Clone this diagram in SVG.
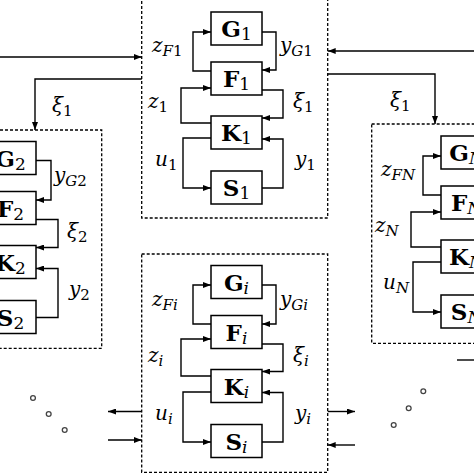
<svg xmlns="http://www.w3.org/2000/svg" width="474" height="474" viewBox="0 0 474 474">
<style>
.bg{fill:#fff}
.dash{fill:none;stroke:#000;stroke-width:1.3;stroke-dasharray:3 2}
.node rect{fill:#fff;stroke:#000;stroke-width:1.5}
.nt{font-family:"DejaVu Serif","Liberation Serif",serif;font-weight:bold;font-size:23px;text-anchor:middle;fill:#000}
.ns{font-size:17px;font-weight:normal}
.it{font-style:italic}
.lb{font-family:"DejaVu Serif","Liberation Serif",serif;font-style:italic;font-size:20px;fill:#000}
.sb{font-size:15px}
.up{font-style:normal}
.conn path{fill:none;stroke:#000;stroke-width:1.4}
.dot{fill:none;stroke:#444;stroke-width:1.3}
</style>
<defs>
<marker id="ah" markerUnits="userSpaceOnUse" markerWidth="8" markerHeight="6" refX="8" refY="3" orient="auto">
<path d="M0,0 L8,3 L0,6 z" fill="#000"/>
</marker>
</defs>
<rect class="bg" x="0" y="0" width="474" height="474"/>

<!-- subsystem frames -->
<g id="frames">
<rect class="dash" x="141.7" y="-1" width="186" height="219"/>
<rect class="dash" x="-20" y="130" width="121.7" height="218.3"/>
<rect class="dash" x="371.7" y="124" width="120" height="219.3"/>
<rect class="dash" x="141.7" y="254" width="186" height="218.3"/>
</g>

<!-- connectors -->
<g id="connectors" class="conn">
<!-- top subsystem 1 -->
<path d="M211,71 H193 V32 H211" marker-end="url(#ah)"/>
<path d="M262,32 H276 V70 H262" marker-end="url(#ah)"/>
<path d="M211,123 H181 V88 H211" marker-end="url(#ah)"/>
<path d="M262,90 H283 V118 H262" marker-end="url(#ah)"/>
<path d="M211,138 H183 V188 H211" marker-end="url(#ah)"/>
<path d="M262,188 H283 V139 H262" marker-end="url(#ah)"/>
<!-- left subsystem 2 -->
<path d="M36,160.5 H51 V200 H36" marker-end="url(#ah)"/>
<path d="M36,219.5 H58 V247.5 H36" marker-end="url(#ah)"/>
<path d="M36,317.5 H58 V268.5 H36" marker-end="url(#ah)"/>
<!-- right subsystem N -->
<path d="M441,195 H423 V156 H441" marker-end="url(#ah)"/>
<path d="M441,247 H411 V212 H441" marker-end="url(#ah)"/>
<path d="M441,262 H413 V312 H441" marker-end="url(#ah)"/>
<!-- bottom subsystem i -->
<path d="M211,324 H193 V285 H211" marker-end="url(#ah)"/>
<path d="M262,285 H276 V324 H262" marker-end="url(#ah)"/>
<path d="M211,376 H181 V339 H211" marker-end="url(#ah)"/>
<path d="M262,344 H283 V371.5 H262" marker-end="url(#ah)"/>
<path d="M211,392 H183 V442 H211" marker-end="url(#ah)"/>
<path d="M262,442 H283 V392.5 H262" marker-end="url(#ah)"/>
<!-- between subsystems -->
<path d="M0,57 H141.7" marker-end="url(#ah)"/>
<path d="M141.7,79 H35 V130" marker-end="url(#ah)"/>
<path d="M474,51 H327.7" marker-end="url(#ah)"/>
<path d="M327.7,74 H435 V124" marker-end="url(#ah)"/>
<path d="M457,360 H474"/>
<path d="M141.7,411.5 H108" marker-end="url(#ah)"/>
<path d="M108,440 H141.7" marker-end="url(#ah)"/>
<path d="M327.7,411.5 H355" marker-end="url(#ah)"/>
<path d="M355,445 H327.7" marker-end="url(#ah)"/>
</g>

<!-- nodes: subsystem 1 -->
<g id="G1" class="node"><rect x="211" y="12" width="51" height="33"/><text class="nt" x="236.5" y="37">G<tspan class="ns" dy="3">1</tspan></text></g>
<g id="F1" class="node"><rect x="211" y="62" width="51" height="33"/><text class="nt" x="236.5" y="87">F<tspan class="ns" dy="3">1</tspan></text></g>
<g id="K1" class="node"><rect x="211" y="116" width="51" height="33"/><text class="nt" x="236.5" y="141">K<tspan class="ns" dy="3">1</tspan></text></g>
<g id="S1" class="node"><rect x="211" y="171" width="51" height="33"/><text class="nt" x="236.5" y="196">S<tspan class="ns" dy="3">1</tspan></text></g>
<!-- subsystem 2 -->
<g id="G2" class="node"><rect x="-15" y="141.5" width="51" height="33"/><text class="nt" x="10.5" y="166.5">G<tspan class="ns" dy="3">2</tspan></text></g>
<g id="F2" class="node"><rect x="-15" y="191.5" width="51" height="33"/><text class="nt" x="10.5" y="216.5">F<tspan class="ns" dy="3">2</tspan></text></g>
<g id="K2" class="node"><rect x="-15" y="245.5" width="51" height="33"/><text class="nt" x="10.5" y="270.5">K<tspan class="ns" dy="3">2</tspan></text></g>
<g id="S2" class="node"><rect x="-15" y="300.5" width="51" height="33"/><text class="nt" x="10.5" y="325.5">S<tspan class="ns" dy="3">2</tspan></text></g>
<!-- subsystem N -->
<g id="GN" class="node"><rect x="441" y="136" width="51" height="33"/><text class="nt" x="466.5" y="161">G<tspan class="ns it" dy="3">N</tspan></text></g>
<g id="FN" class="node"><rect x="441" y="186" width="51" height="33"/><text class="nt" x="466.5" y="211">F<tspan class="ns it" dy="3">N</tspan></text></g>
<g id="KN" class="node"><rect x="441" y="240" width="51" height="33"/><text class="nt" x="466.5" y="265">K<tspan class="ns it" dy="3">N</tspan></text></g>
<g id="SN" class="node"><rect x="441" y="295" width="51" height="33"/><text class="nt" x="466.5" y="320">S<tspan class="ns it" dy="3">N</tspan></text></g>
<!-- subsystem i -->
<g id="Gi" class="node"><rect x="211" y="265.5" width="51" height="33"/><text class="nt" x="236.5" y="290.5">G<tspan class="ns it" dy="3">i</tspan></text></g>
<g id="Fi" class="node"><rect x="211" y="315.5" width="51" height="33"/><text class="nt" x="236.5" y="340.5">F<tspan class="ns it" dy="3">i</tspan></text></g>
<g id="Ki" class="node"><rect x="211" y="369.5" width="51" height="33"/><text class="nt" x="236.5" y="394.5">K<tspan class="ns it" dy="3">i</tspan></text></g>
<g id="Si" class="node"><rect x="211" y="424.5" width="51" height="33"/><text class="nt" x="236.5" y="449.5">S<tspan class="ns it" dy="3">i</tspan></text></g>

<!-- labels -->
<g id="labels">
<text class="lb" x="152" y="52">z<tspan class="sb" dy="4">F<tspan class="up">1</tspan></tspan></text>
<text class="lb" x="280" y="52">y<tspan class="sb" dy="4">G<tspan class="up">1</tspan></tspan></text>
<text class="lb" x="148" y="108">z<tspan class="sb up" dy="4">1</tspan></text>
<text class="lb" x="293" y="108">ξ<tspan class="sb up" dy="4">1</tspan></text>
<text class="lb" x="155" y="166">u<tspan class="sb up" dy="4">1</tspan></text>
<text class="lb" x="295" y="166">y<tspan class="sb up" dy="4">1</tspan></text>

<text class="lb" x="54" y="181.5">y<tspan class="sb" dy="4">G<tspan class="up">2</tspan></tspan></text>
<text class="lb" x="67" y="237.5">ξ<tspan class="sb up" dy="4">2</tspan></text>
<text class="lb" x="69" y="295.5">y<tspan class="sb up" dy="4">2</tspan></text>

<text class="lb" x="381" y="176">z<tspan class="sb" dy="4">FN</tspan></text>
<text class="lb" x="375" y="232">z<tspan class="sb" dy="4">N</tspan></text>
<text class="lb" x="383" y="289">u<tspan class="sb" dy="4">N</tspan></text>

<text class="lb" x="152" y="305.5">z<tspan class="sb" dy="4">Fi</tspan></text>
<text class="lb" x="280" y="305.5">y<tspan class="sb" dy="4">Gi</tspan></text>
<text class="lb" x="148" y="361.5">z<tspan class="sb" dy="4">i</tspan></text>
<text class="lb" x="293" y="361.5">ξ<tspan class="sb" dy="4">i</tspan></text>
<text class="lb" x="155" y="419.5">u<tspan class="sb" dy="4">i</tspan></text>
<text class="lb" x="295" y="419.5">y<tspan class="sb" dy="4">i</tspan></text>

<text class="lb" x="52" y="112">ξ<tspan class="sb up" dy="4">1</tspan></text>
<text class="lb" x="390" y="107">ξ<tspan class="sb up" dy="4">1</tspan></text>
</g>

<!-- ellipsis dots -->
<g id="dots">
<circle class="dot" cx="33" cy="398" r="2.4"/>
<circle class="dot" cx="48.7" cy="414" r="2.4"/>
<circle class="dot" cx="64.7" cy="430" r="2.4"/>
<circle class="dot" cx="423.3" cy="391.3" r="2.4"/>
<circle class="dot" cx="408.7" cy="408.3" r="2.4"/>
<circle class="dot" cx="393.7" cy="425" r="2.4"/>
</g>
</svg>
